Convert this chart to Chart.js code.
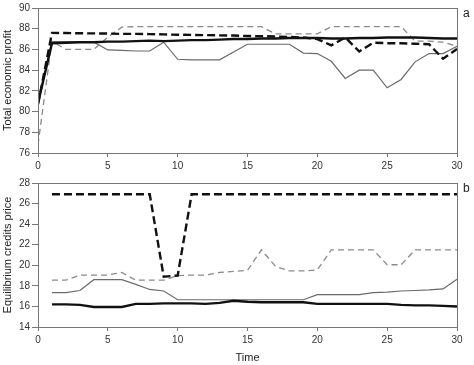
<!DOCTYPE html>
<html>
<head>
<meta charset="utf-8">
<title>Total economic profit / Equilibrium credits price</title>
<script src="https://cdn.jsdelivr.net/npm/chart.js@4/dist/chart.umd.min.js"></script>
<style>
  body { margin: 0; background: #fff; }
  canvas { position: absolute; left: 0; }
</style>
</head>
<body>
<canvas id="chartA" width="474" height="175" style="top:0px"></canvas>
<canvas id="chartB" width="474" height="190" style="top:175px"></canvas>
<script>
// Definicion de datos
let tiempo = [0,1,2,3,4,5,6,7,8,9,10,11,12,13,14,15,16,17,18,19,20,21,22,23,24,25,26,27,28,29,30];

// (a) Total economic profit
let profitNegroSolido = [80.8,86.6,86.65,86.7,86.7,86.75,86.75,86.8,86.85,86.8,86.85,86.9,86.9,86.95,87.0,87.0,87.05,87.05,87.1,87.1,87.1,87.05,87.05,87.1,87.1,87.15,87.15,87.15,87.1,87.05,87.05];
let profitNegroGuion  = [80.7,87.6,87.58,87.56,87.55,87.53,87.5,87.5,87.48,87.45,87.42,87.4,87.38,87.36,87.34,87.3,87.28,87.25,87.2,87.15,87.0,86.4,87.15,85.8,86.65,86.6,86.6,86.55,86.5,85.1,86.05];
let profitGrisGuion   = [76.8,86.8,86.0,86.0,86.0,87.2,88.15,88.2,88.2,88.2,88.2,88.2,88.2,88.2,88.2,88.2,88.2,87.5,87.5,87.5,87.5,88.2,88.2,88.2,88.2,88.2,88.2,86.8,86.8,86.7,86.3];
let profitGrisSolido  = [80.8,86.75,86.75,86.75,86.7,85.95,85.9,85.85,85.85,86.7,85.05,85.0,85.0,85.0,85.75,86.5,86.5,86.5,86.5,85.65,85.6,84.85,83.2,84.0,84.0,82.3,83.1,84.8,85.6,85.6,86.3];

// (b) Equilibrium credits price (sin valor en t = 0)
let precioNegroSolido = [null,16.2,16.2,16.15,15.95,15.95,15.95,16.25,16.25,16.3,16.3,16.3,16.25,16.35,16.55,16.45,16.4,16.4,16.4,16.4,16.25,16.25,16.25,16.25,16.25,16.25,16.15,16.1,16.1,16.05,16.0];
let precioNegroGuion  = [null,26.9,26.9,26.9,26.9,26.9,26.9,26.9,26.9,18.9,19.0,26.9,26.9,26.9,26.9,26.9,26.9,26.9,26.9,26.9,26.9,26.9,26.9,26.9,26.9,26.9,26.9,26.9,26.9,26.9,26.9];
let precioGrisGuion   = [null,18.55,18.55,19.05,19.05,19.05,19.3,18.55,18.55,18.55,19.0,19.05,19.05,19.3,19.4,19.5,21.5,19.9,19.45,19.45,19.55,21.5,21.5,21.5,21.5,20.05,20.05,21.5,21.5,21.5,21.5];
let precioGrisSolido  = [null,17.35,17.35,17.55,18.6,18.6,18.6,18.15,17.65,17.5,16.65,16.65,16.65,16.65,16.65,16.65,16.65,16.65,16.65,16.65,17.15,17.15,17.15,17.15,17.35,17.4,17.5,17.55,17.6,17.7,18.65];

let fuente = '"Liberation Sans", Arial, sans-serif';

// puntos x,y a partir de tiempo
function puntos(serie) {
  return serie.map((v, i) => ({ x: tiempo[i], y: v }));
}

// estilos de las 4 lineas (negras primero para que queden encima)
function series(negroSolido, negroGuion, grisGuion, grisSolido) {
  return [
    { data: puntos(negroSolido), borderColor: '#111', borderWidth: 2.4 },
    { data: puntos(negroGuion),  borderColor: '#111', borderWidth: 2.4, borderDash: [8, 4] },
    { data: puntos(grisGuion),   borderColor: '#8a8a8a', borderWidth: 1.3, borderDash: [6, 4] },
    { data: puntos(grisSolido),  borderColor: '#6a6a6a', borderWidth: 1.2 }
  ];
}

// marco alrededor del area y letra del panel
const marco = {
  id: 'marco',
  afterDraw(chart, args, opts) {
    const ctx = chart.ctx;
    const a = chart.chartArea;
    ctx.save();
    ctx.strokeStyle = '#777';
    ctx.lineWidth = 1;
    ctx.strokeRect(a.left + 0.5, a.top + 0.5, a.right - a.left, a.bottom - a.top);
    ctx.fillStyle = '#222';
    ctx.font = '12px ' + fuente;
    ctx.textBaseline = 'alphabetic';
    ctx.fillText(opts.letra, a.right + 6, a.top + 9);
    ctx.restore();
  }
};

function opciones(yMin, yMax, tituloY, tituloX, altoX, letra) {
  return {
    responsive: false,
    animation: false,
    devicePixelRatio: 1,
    layout: { padding: { top: 5, right: 17, left: 0, bottom: 0 } },
    elements: { point: { radius: 0 }, line: { tension: 0, fill: false } },
    plugins: { legend: { display: false }, tooltip: { enabled: false }, marco: { letra: letra } },
    scales: {
      x: {
        type: 'linear', min: 0, max: 30,
        ticks: { stepSize: 5, color: '#333', padding: 3, maxRotation: 0, font: { family: fuente, size: 10 } },
        grid: { drawOnChartArea: false, tickLength: 4, color: '#777' },
        border: { display: false },
        title: { display: tituloX != '', text: tituloX, color: '#222', padding: { top: 0, bottom: 0 }, font: { family: fuente, size: 11 } },
        afterFit: (s) => { s.height = altoX; }
      },
      y: {
        min: yMin, max: yMax,
        ticks: { stepSize: 2, color: '#333', padding: 2, font: { family: fuente, size: 10 } },
        grid: { drawOnChartArea: false, tickLength: 6, color: '#777' },
        border: { display: false },
        title: { display: true, text: tituloY, color: '#222', padding: { top: 1.5, bottom: 0 }, font: { family: fuente, size: 11 } },
        afterFit: (s) => { s.width = 38; }
      }
    }
  };
}

new Chart(document.getElementById('chartA'), {
  type: 'line',
  data: { datasets: series(profitNegroSolido, profitNegroGuion, profitGrisGuion, profitGrisSolido) },
  options: opciones(76, 90, 'Total economic profit', '', 22, 'a'),
  plugins: [marco]
});

new Chart(document.getElementById('chartB'), {
  type: 'line',
  data: { datasets: series(precioNegroSolido, precioNegroGuion, precioGrisGuion, precioGrisSolido) },
  options: opciones(14, 28, 'Equilibrium credits price', 'Time', 38, 'b'),
  plugins: [marco]
});
</script>
</body>
</html>
